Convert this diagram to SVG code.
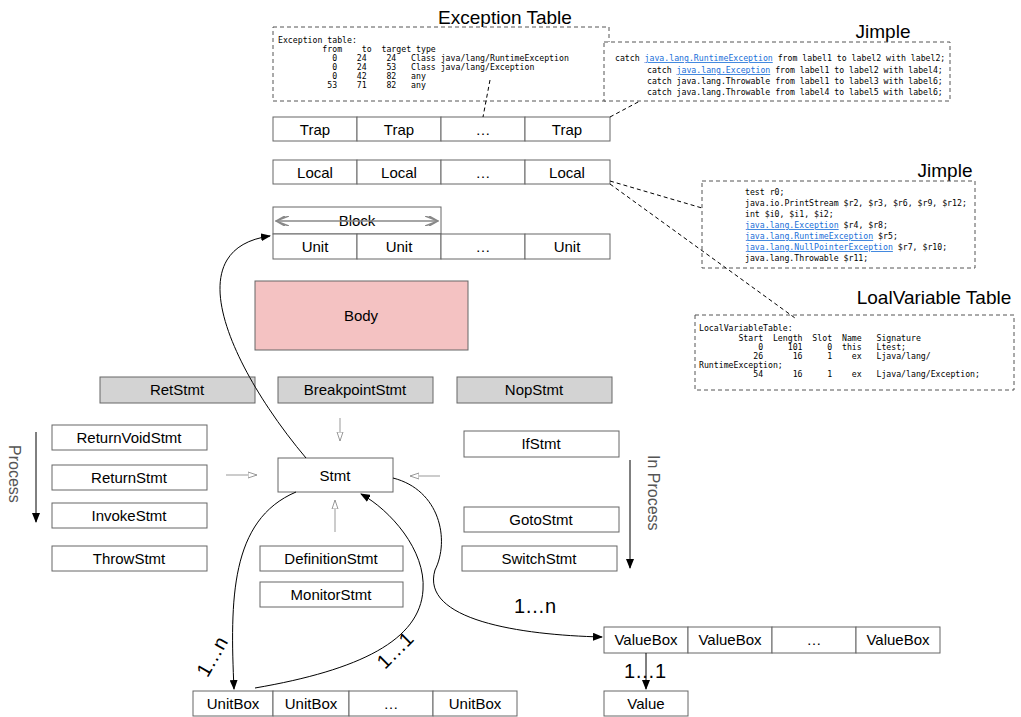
<svg xmlns="http://www.w3.org/2000/svg" width="1021" height="717" viewBox="0 0 1021 717">
<style>
.b{fill:#fff;stroke:#666;stroke-width:1}
.g{fill:#d3d3d3;stroke:#666}
.t{font-family:Helvetica,"Liberation Sans",Arial,sans-serif;font-size:15px;text-anchor:middle;fill:#000}
.m{font-family:"DejaVu Sans Mono",monospace;font-size:8.2px;fill:#000}
.ln{fill:#1a6fd8;text-decoration:underline}
.d{fill:#fff;stroke:#555;stroke-dasharray:4 3}
.h{font-family:Helvetica,"Liberation Sans",Arial,sans-serif;font-size:19px;text-anchor:middle}
.c{fill:none;stroke:#000;stroke-width:1}
.cd{fill:none;stroke:#000;stroke-dasharray:4 3}
.ga{fill:none;stroke:#999;stroke-width:1}
.lb{font-family:Helvetica,"Liberation Sans",Arial,sans-serif;font-size:20px;text-anchor:middle}
</style>
<defs>
<marker id="a" markerWidth="10" markerHeight="8" refX="9" refY="4" orient="auto" markerUnits="userSpaceOnUse"><path d="M0,0L10,4L0,8z" fill="#000"/></marker>
<marker id="o" markerWidth="10" markerHeight="8" refX="9" refY="4" orient="auto" markerUnits="userSpaceOnUse"><path d="M0,1L9,4L0,7z" fill="#fff" stroke="#999"/></marker>
<marker id="v" markerWidth="14" markerHeight="10" refX="13" refY="5" orient="auto-start-reverse" markerUnits="userSpaceOnUse"><path d="M0,0L13,5L0,10M4,0L13,5L4,10" fill="none" stroke="#888" stroke-width="1.5"/></marker>
</defs>

<g id="exc-table">
<text class="h" x="505" y="24">Exception Table</text>
<rect class="d" x="273" y="27" width="336" height="74"/>
<text class="m" xml:space="preserve"><tspan x="278" y="43">Exception table:</tspan><tspan x="278" y="52">         from    to  target type</tspan><tspan x="278" y="61">           0    24    24   Class java/lang/RuntimeException</tspan><tspan x="278" y="70">           0    24    53   Class java/lang/Exception</tspan><tspan x="278" y="79">           0    42    82   any</tspan><tspan x="278" y="88">          53    71    82   any</tspan></text>
</g>

<g id="jimple1">
<text class="h" x="883" y="38">Jimple</text>
<rect class="d" x="604" y="42" width="346" height="59"/>
<text class="m" xml:space="preserve"><tspan x="615" y="61">catch <tspan class="ln">java.lang.RuntimeException</tspan> from label1 to label2 with label2;</tspan><tspan x="647" y="73">catch <tspan class="ln">java.lang.Exception</tspan> from label1 to label2 with label4;</tspan><tspan x="647" y="84">catch java.lang.Throwable from label1 to label3 with label6;</tspan><tspan x="647" y="95">catch java.lang.Throwable from label4 to label5 with label6;</tspan></text>
</g>

<g id="jimple2">
<text class="h" x="945" y="177">Jimple</text>
<rect class="d" x="702" y="181" width="273" height="87"/>
<text class="m"><tspan x="745" y="195">test r0;</tspan><tspan x="745" y="206">java.io.PrintStream $r2, $r3, $r6, $r9, $r12;</tspan><tspan x="745" y="217">int $i0, $i1, $i2;</tspan><tspan x="745" y="228"><tspan class="ln">java.lang.Exception</tspan> $r4, $r8;</tspan><tspan x="745" y="239"><tspan class="ln">java.lang.RuntimeException</tspan> $r5;</tspan><tspan x="745" y="250"><tspan class="ln">java.lang.NullPointerException</tspan> $r7, $r10;</tspan><tspan x="745" y="261">java.lang.Throwable $r11;</tspan></text>
</g>

<g id="lvt">
<text class="h" x="934" y="304">LoalVariable Table</text>
<rect class="d" x="695" y="315" width="319" height="75"/>
<text class="m" xml:space="preserve"><tspan x="699" y="331">LocalVariableTable:</tspan><tspan x="699" y="341">        Start  Length  Slot  Name   Signature</tspan><tspan x="699" y="350">            0     101     0  this   Ltest;</tspan><tspan x="699" y="359">           26      16     1    ex   Ljava/lang/</tspan><tspan x="699" y="368">RuntimeException;</tspan><tspan x="699" y="377">           54      16     1    ex   Ljava/lang/Exception;</tspan></text>
</g>

<g id="traps">
<rect class="b" x="273" y="117" width="84" height="24"/><text class="t" x="315" y="135">Trap</text>
<rect class="b" x="357" y="117" width="84" height="24"/><text class="t" x="399" y="135">Trap</text>
<rect class="b" x="441" y="117" width="84" height="24"/><text class="t" x="483" y="135">…</text>
<rect class="b" x="525" y="117" width="85" height="24"/><text class="t" x="567" y="135">Trap</text>
</g>
<g id="locals">
<rect class="b" x="273" y="160" width="84" height="24"/><text class="t" x="315" y="178">Local</text>
<rect class="b" x="357" y="160" width="84" height="24"/><text class="t" x="399" y="178">Local</text>
<rect class="b" x="441" y="160" width="84" height="24"/><text class="t" x="483" y="178">…</text>
<rect class="b" x="525" y="160" width="85" height="24"/><text class="t" x="567" y="178">Local</text>
</g>
<g id="block">
<rect class="b" x="273" y="207" width="168" height="27"/>
<text class="t" x="357" y="226" fill="#333">Block</text>
<line x1="276" y1="221" x2="438" y2="221" stroke="#888" stroke-width="1.5" marker-start="url(#v)" marker-end="url(#v)"/>
</g>
<g id="units">
<rect class="b" x="273" y="234" width="84" height="25"/><text class="t" x="315" y="252">Unit</text>
<rect class="b" x="357" y="234" width="84" height="25"/><text class="t" x="399" y="252">Unit</text>
<rect class="b" x="441" y="234" width="84" height="25"/><text class="t" x="483" y="252">…</text>
<rect class="b" x="525" y="234" width="85" height="25"/><text class="t" x="567" y="252">Unit</text>
</g>
<g id="body"><rect x="255" y="281" width="213" height="69" fill="#f4c2c2" stroke="#666"/><text class="t" x="361" y="321">Body</text></g>

<g id="ret"><rect class="g" x="100" y="377" width="155" height="26"/><text class="t" x="177" y="395">RetStmt</text></g>
<g id="brk"><rect class="g" x="278" y="377" width="155" height="26"/><text class="t" x="355" y="395">BreakpointStmt</text></g>
<g id="nop"><rect class="g" x="457" y="377" width="155" height="26"/><text class="t" x="534" y="395">NopStmt</text></g>

<g id="rv"><rect class="b" x="52" y="425" width="155" height="25"/><text class="t" x="129" y="443">ReturnVoidStmt</text></g>
<g id="rs"><rect class="b" x="52" y="465" width="155" height="25"/><text class="t" x="129" y="483">ReturnStmt</text></g>
<g id="is"><rect class="b" x="52" y="503" width="155" height="25"/><text class="t" x="129" y="521">InvokeStmt</text></g>
<g id="ts"><rect class="b" x="52" y="546" width="155" height="25"/><text class="t" x="129" y="564">ThrowStmt</text></g>

<g id="stmt"><rect class="b" x="278" y="458" width="115" height="34"/><text class="t" x="335" y="481">Stmt</text></g>

<g id="if"><rect class="b" x="464" y="431" width="155" height="26"/><text class="t" x="541" y="449">IfStmt</text></g>
<g id="goto"><rect class="b" x="464" y="507" width="155" height="25"/><text class="t" x="541" y="525">GotoStmt</text></g>
<g id="sw"><rect class="b" x="462" y="546" width="155" height="25"/><text class="t" x="539" y="564">SwitchStmt</text></g>
<g id="def"><rect class="b" x="260" y="546" width="143" height="25"/><text class="t" x="331" y="564">DefinitionStmt</text></g>
<g id="mon"><rect class="b" x="260" y="582" width="143" height="25"/><text class="t" x="331" y="600">MonitorStmt</text></g>

<g id="valueboxes">
<rect class="b" x="604" y="627" width="84" height="26"/><text class="t" x="646" y="645">ValueBox</text>
<rect class="b" x="688" y="627" width="84" height="26"/><text class="t" x="730" y="645">ValueBox</text>
<rect class="b" x="772" y="627" width="84" height="26"/><text class="t" x="814" y="645">…</text>
<rect class="b" x="856" y="627" width="84" height="26"/><text class="t" x="898" y="645">ValueBox</text>
</g>
<g id="value"><rect class="b" x="604" y="691" width="84" height="25"/><text class="t" x="646" y="709">Value</text></g>
<g id="unitboxes">
<rect class="b" x="193" y="691" width="80" height="25"/><text class="t" x="233" y="709">UnitBox</text>
<rect class="b" x="273" y="691" width="76" height="25"/><text class="t" x="311" y="709">UnitBox</text>
<rect class="b" x="349" y="691" width="84" height="25"/><text class="t" x="391" y="709">…</text>
<rect class="b" x="433" y="691" width="84" height="25"/><text class="t" x="475" y="709">UnitBox</text>
</g>

<g id="connectors">
<path class="cd" d="M490,80L483,117"/>
<path class="cd" d="M610,117L640,101"/>
<path class="cd" d="M610,181L702,208"/>
<path class="cd" d="M610,184L795,318"/>
<path class="c" d="M306,458C240,380 170,250 270,236" marker-end="url(#a)"/>
<path class="c" d="M296,492C230,520 230,600 234,689" marker-end="url(#a)"/>
<path class="c" d="M255,688C360,670 420,640 423,590C426,550 390,510 361,494" marker-end="url(#a)"/>
<path class="c" d="M393,478C440,490 450,540 435,570C420,620 520,635 602,637" marker-end="url(#a)"/>
<path class="c" d="M646,653L646,689" marker-end="url(#a)"/>
<path class="ga" d="M340,418L340,441" marker-end="url(#o)"/>
<path class="ga" d="M226,475L257,475" marker-end="url(#o)"/>
<path class="ga" d="M440,476L410,476" marker-end="url(#o)"/>
<path class="ga" d="M335,532L335,500" marker-end="url(#o)"/>
<path class="c" d="M36,432L36,522" marker-end="url(#a)"/>
<path class="c" d="M630,460L630,568" marker-end="url(#a)"/>
</g>
<text x="9" y="445" transform="rotate(90 9 445)" font-family="Helvetica,'Liberation Sans',sans-serif" font-size="16" fill="#555">Process</text>
<text x="648" y="455" transform="rotate(90 648 455)" font-family="Helvetica,'Liberation Sans',sans-serif" font-size="16" fill="#555">In Process</text>
<text class="lb" x="535" y="613">1…n</text>
<text class="lb" x="218" y="660" transform="rotate(-60 218 660)">1…n</text>
<text class="lb" x="400" y="655" transform="rotate(-45 400 655)">1…1</text>
<text class="lb" x="645" y="678">1…1</text>
</svg>
